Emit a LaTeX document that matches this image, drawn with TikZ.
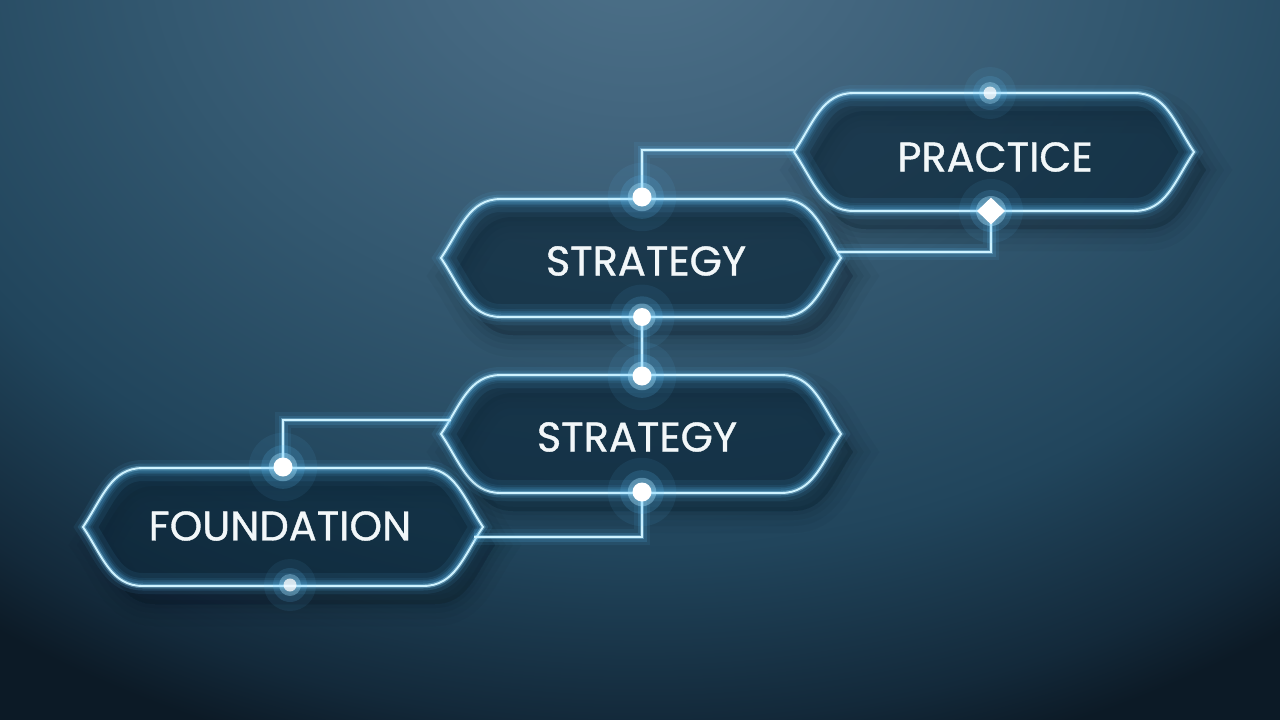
\documentclass[tikz,border=0pt]{standalone}
\usepackage{fontspec}
\newfontfamily\lblfont{Poppins}[FakeBold=0.9]
\usetikzlibrary{shapes.geometric}
\definecolor{bg0}{HTML}{4D7189}
\definecolor{bg1}{HTML}{43667F}
\definecolor{bg2}{HTML}{335870}
\definecolor{bg3}{HTML}{21455C}
\definecolor{bg4}{HTML}{13293A}
\definecolor{bg5}{HTML}{0C1A26}
\definecolor{glowc}{HTML}{5EC4FF}
\definecolor{glowd}{HTML}{A6E3FF}
\definecolor{linec}{HTML}{CFF3FF}
\definecolor{boxc}{HTML}{0F2C40}
\definecolor{shadowc}{HTML}{06121B}
\definecolor{txtc}{HTML}{F2F7F9}
\pgfdeclareradialshading{bgglow}{\pgfpoint{0bp}{0bp}}{color(0bp)=(bg0); color(5bp)=(bg1); color(11bp)=(bg2); color(18bp)=(bg3); color(23bp)=(bg4); color(25bp)=(bg5); color(50bp)=(bg5)}
\newcommand\hx[1]{#1 (-200,0) .. controls (-180,-30) and (-172,-59) .. (-140,-59) -- (140,-59) .. controls (172,-59) and (180,-30) .. (200,0) .. controls (180,30) and (172,59) .. (140,59) -- (-140,59) .. controls (-172,59) and (-180,30) .. (-200,0) -- cycle;}
\tikzset{
  glowA/.style={draw=glowc, line width=16, opacity=0.08},
  glowB/.style={draw=glowc, line width=9, opacity=0.15},
  glowC/.style={draw=glowd, line width=4.5, opacity=0.35},
  core/.style={draw=linec, line width=1.9},
  lbl/.style={text=txtc, font=\lblfont\fontsize{41.5}{41.5}\selectfont, inner sep=0},
  dotn/.style={circle, fill=white, inner sep=0},
  softdot/.style={circle, fill=white, fill opacity=0.75, inner sep=0},
  diam/.style={diamond, fill=white, inner sep=0, minimum width=28, minimum height=27},
}
\newcommand\hexbox[4]{%
\begin{scope}[shift={#2}]
  \foreach \w/\o in {44/0.04,30/0.05,18/0.06,8/0.07}{\hx{\path[fill=shadowc, draw=shadowc, line width=\w, opacity=\o, shift={(12,18)}]}}
  \hx{\fill[boxc, opacity=0.6]}
  \begin{scope}\hx{\clip}\hx{\draw[glowc, line width=26, opacity=0.08]}\hx{\draw[glowc, line width=12, opacity=0.12]}\end{scope}
  \hx{\draw[glowA]}\hx{\draw[glowB]}\hx{\draw[glowC]}\hx{\draw[core]}
\end{scope}
\node[lbl] (#1) at #3 {#4};
}
\newcommand\gdot[3]{%
  \fill[glowc, opacity=0.08] #2 circle ({#3*3.6});
  \fill[glowc, opacity=0.16] #2 circle ({#3*2.3});
  \fill[glowd, opacity=0.40] #2 circle ({#3*1.5});
  \node[dotn, minimum size={2*#3}] (#1) at #2 {};
}
\newcommand\sdot[2]{%
  \fill[glowc, opacity=0.08] #2 circle (26);
  \fill[glowc, opacity=0.14] #2 circle (17);
  \fill[glowd, opacity=0.35] #2 circle (11);
  \node[softdot, minimum size=13] (#1) at #2 {};
}
\newcommand\conn[1]{%
  \draw[glowA] #1; \draw[glowB] #1; \draw[glowC, line width=3.5] #1; \draw[core, line width=1.6] #1;
}
\begin{document}
\begin{tikzpicture}[x=1pt,y=-1pt]
\useasboundingbox (0,0) rectangle (1280,720);
\begin{scope}
  \clip (0,0) rectangle (1280,720);
  \fill[bg5] (0,0) rectangle (1280,720);
  \shade[shading=bgglow] (640,-60) ellipse (1100 and 850);
\end{scope}
% boxes
\hexbox{prac}{(994,152)}{(995,157)}{PRACTICE}
\hexbox{stratA}{(641,258)}{(646,261)}{STRATEGY}
\hexbox{stratB}{(641,434)}{(637,437)}{STRATEGY}
\hexbox{found}{(283,527)}{(280,526)}{FOUNDATION}
% connector end points on the outlines
\coordinate (pracIn) at (794,150);
\coordinate (stratAOut) at (838,252);
\coordinate (stratBIn) at (451,420);
\coordinate (foundOut) at (474,537);
% dot positions
\coordinate (pTopP) at (990,93);
\coordinate (pDiaP) at (991,211);
\coordinate (aTopP) at (642,197);
\coordinate (aBotP) at (642,317);
\coordinate (bTopP) at (642,376);
\coordinate (bBotP) at (642,492);
\coordinate (fTopP) at (283,467);
\coordinate (fBotP) at (290,585);
% connectors
\conn{(aTopP) |- (pracIn)}
\conn{(pDiaP) |- (stratAOut)}
\conn{(aBotP) -- (bTopP)}
\conn{(bBotP) |- (foundOut)}
\conn{(fTopP) |- (stratBIn)}
% dots
\sdot{pTop}{(pTopP)}
\gdot{aTop}{(aTopP)}{9.5}
\gdot{aBot}{(aBotP)}{9}
\gdot{bTop}{(bTopP)}{9.5}
\gdot{bBot}{(bBotP)}{9.5}
\gdot{fTop}{(fTopP)}{9.5}
\sdot{fBot}{(fBotP)}
\fill[glowc, opacity=0.08] (pDiaP) circle (32);
\fill[glowc, opacity=0.16] (pDiaP) circle (21);
\fill[glowd, opacity=0.40] (pDiaP) circle (15);
\node[diam] (pDia) at (pDiaP) {};
\end{tikzpicture}
\end{document}
